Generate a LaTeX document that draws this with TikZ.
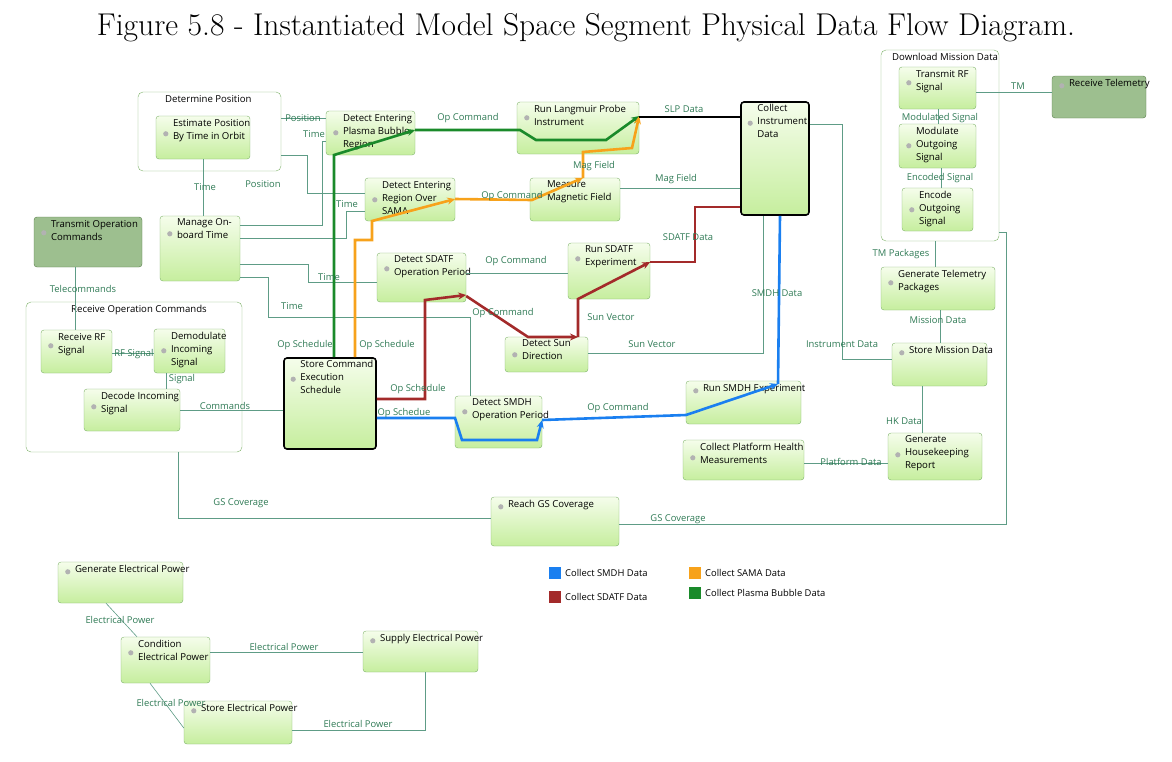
\documentclass[tikz,border=0pt]{standalone}
\usepackage{fontspec}
\newfontfamily\dsans{Open Sans}
\usetikzlibrary{fit,arrows.meta}
\definecolor{fnline}{HTML}{7FB36A}
\definecolor{fntop}{HTML}{F5FDEB}
\definecolor{fnbot}{HTML}{C6EE9E}
\definecolor{darkfn}{HTML}{9DBF8F}
\definecolor{flowc}{HTML}{5E9C86}
\definecolor{labc}{HTML}{2F7A55}
\definecolor{pbgreen}{HTML}{1A8A2A}
\definecolor{samaor}{HTML}{F7A21B}
\definecolor{sdatfred}{HTML}{A32A2A}
\definecolor{smdhblue}{HTML}{1A7FF0}
\tikzset{fn/.style={draw=fnline,rounded corners=3pt,top color=fntop,bottom color=fnbot,inner sep=0pt},
  dark fn/.style={draw=fnline!70!black,rounded corners=3pt,fill=darkfn,inner sep=0pt},
  key fn/.style={fn,draw=black,line width=1.6pt},
  group/.style={draw=fnline,rounded corners=5pt,fill=white,inner sep=0pt},
  fn text/.style={font=\dsans\fontsize{9.6}{13}\selectfont,align=left,anchor=north west,inner sep=1pt},
  flow/.style={draw=flowc,line width=0.6pt},
  flow label/.style={font=\dsans\fontsize{9.4}{11}\selectfont,text=labc,inner sep=1pt},
  thread/.style={line width=2.6pt,-{Stealth[length=8pt,width=7pt]}},
}
\newcommand{\fnbox}[6][fn]{%
  \coordinate (#2-a) at (#3); \coordinate (#2-b) at (#4);
  \node[#1,fit=(#2-a)(#2-b)] (#2) {};
  \node[fn text] at ([shift={(16,2)}]#2.north west) {#5};
  \fill[gray!60] ([shift={(10,#6)}]#2.north west) circle (2.6pt);}
\begin{document}
\begin{tikzpicture}[x=1pt,y=-1pt]
\useasboundingbox (0,0) rectangle (1172,761);
\node[font=\fontsize{31.5}{36}\selectfont] (title) at (586,28) {Figure 5.8 - Instantiated Model Space Segment Physical Data Flow Diagram.};
% groups
\node[group,fit={(138,92)(281,171)}] (detpos) {};
\node[fn text] at (164,94) {Determine Position};
\node[group,fit={(26,302)(242,452)}] (recops) {};
\node[fn text] at (70,304) {Receive Operation Commands};
\node[group,fit={(881,50)(999,241)}] (dlmd) {};
\node[fn text] at (891,52) {Download Mission Data};
% functions
\fnbox{estpos}{156,116}{250,159}{Estimate Position\\By Time in Orbit}{18}
\fnbox{mot}{160,216}{240,281}{Manage On-\\board Time}{18}
\fnbox[dark fn]{txop}{34,217}{142,267}{Transmit Operation\\Commands}{16}
\fnbox{rxrf}{41,330}{112,373}{Receive RF\\Signal}{16}
\fnbox{demod}{154,329}{225,373}{Demodulate\\Incoming\\Signal}{22}
\fnbox{decode}{84,389}{180,431}{Decode Incoming\\Signal}{18}
\fnbox{plasma}{326,111}{415,155}{Detect Entering\\Plasma Bubble\\Region}{22}
\fnbox{sama}{365,178}{455,221}{Detect Entering\\Region Over\\SAMA}{22}
\fnbox{langmuir}{517,102}{639,154}{Run Langmuir Probe\\Instrument}{16}
\fnbox{magf}{530,178}{620,221}{Measure\\Magnetic Field}{18}
\fnbox[key fn]{collect}{741,102}{809,215}{Collect\\Instrument\\Data}{22}
\fnbox{sdatfp}{377,253}{466,302}{Detect SDATF\\Operation Period}{16}
\fnbox{runsdatf}{568,243}{650,299}{Run SDATF\\Experiment}{16}
\fnbox{sun}{505,337}{588,372}{Detect Sun\\Direction}{18}
\fnbox[key fn]{store}{284,358}{376,449}{Store Command\\Execution\\Schedule}{22}
\fnbox{smdhp}{455,396}{542,448}{Detect SMDH\\Operation Period}{16}
\fnbox{runsmdh}{686,381}{801,424}{Run SMDH Experiment}{10}
\fnbox{cph}{683,440}{804,480}{Collect Platform Health\\Measurements}{18}
\fnbox{txrf}{899,67}{976,109}{Transmit RF\\Signal}{16}
\fnbox{modout}{899,124}{976,168}{Modulate\\Outgoing\\Signal}{22}
\fnbox{encout}{902,188}{973,231}{Encode\\Outgoing\\Signal}{22}
\fnbox[dark fn]{rxtel}{1052,76}{1146,118}{Receive Telemetry}{10}
\fnbox{gtp}{881,267}{995,310}{Generate Telemetry\\Packages}{16}
\fnbox{smd}{892,343}{987,386}{Store Mission Data}{10}
\fnbox{ghr}{888,433}{982,480}{Generate\\Housekeeping\\Report}{22}
\fnbox{gscov}{491,497}{619,546}{Reach GS Coverage}{10}
\fnbox{genep}{58,562}{183,603}{Generate Electrical Power}{10}
\fnbox{condep}{121,637}{210,683}{Condition\\Electrical Power}{16}
\fnbox{supep}{363,631}{478,672}{Supply Electrical Power}{10}
\fnbox{storep}{184,701}{292,744}{Store Electrical Power}{10}
% thin flows
\draw[flow] (detpos.east|-0,118) -- (plasma.west|-0,118);
\draw[flow] (detpos.east|-0,155) -| (307,193) -- (sama.west|-0,193);
\draw[flow] (estpos.south) -- (mot.north-|estpos.south);
\draw[flow] (mot.east|-0,225) -| (322,141) -- (plasma.west|-0,141);
\draw[flow] (mot.east|-0,238) -| (346,211) -- (sama.west|-0,211);
\draw[flow] (mot.east|-0,264) -| (308,282) -- (sdatfp.west|-0,282);
\draw[flow] (mot.east|-0,277) -| (268,317) -| (smdhp.north-|470,0);
\draw[flow] (txop.south-|75,0) -- (rxrf.north-|75,0);
\draw[flow] (rxrf.east|-0,353) -- (demod.west|-0,353);
\draw[flow] (demod.south-|166,0) -- (decode.north-|166,0);
\draw[flow] (decode.east|-0,410) -- (store.west|-0,410);
\draw[flow] (plasma.east|-0,130) -- (langmuir.west|-0,130);
\draw[flow] (sdatfp.east|-0,273) -- (runsdatf.west|-0,273);
\draw[flow] (magf.east|-0,188) -- (collect.west|-0,188);
\draw[flow] (sun.east|-0,353) -| (collect.south-|763,0);
\draw[flow] (collect.east|-0,124) -| (842,359) -- (smd.west|-0,359);
\draw[flow] (txrf.east|-0,92) -- (rxtel.west|-0,92);
\draw[flow] (txrf.south-|938,0) -- (modout.north-|938,0);
\draw[flow] (modout.south-|941,0) -- (encout.north-|941,0);
\draw[flow] (dlmd.south-|935,0) -- (gtp.north-|935,0);
\draw[flow] (gtp.south-|940,0) -- (smd.north-|940,0);
\draw[flow] (smd.south-|922,0) -- (ghr.north-|922,0);
\draw[flow] (cph.east|-0,463) -- (ghr.west|-0,463);
\draw[flow] (recops.south-|178,0) |- (gscov.west|-0,518);
\draw[flow] (dlmd.east|-0,232) -| (1006,524) -- (gscov.east|-0,524);
\draw[flow] (genep.south-|106,0) -- (condep.north-|137,0);
\draw[flow] (condep.east|-0,652) -- (supep.west|-0,652);
\draw[flow] (condep.south-|150,0) -- (storep.west|-0,728);
\draw[flow] (storep.east|-0,730) -| (supep.south-|425,0);
% threads
\draw[thread,pbgreen] (store.north-|334,0) -- (334,155) -- (plasma.east|-0,130);
\draw[thread,pbgreen] (plasma.east|-0,130) -- (520,130) -- (536,140) -- (606,140) -- (langmuir.east|-0,116);
\draw[thread,samaor] (store.north-|355,0) -- (355,240) -- (372,240) -- (372,221) -- (sama.east|-0,199);
\draw[thread,samaor] (sama.east|-0,199) -- (532,200) -- (magf.north-|583,0);
\draw[thread,samaor] (583,178) -- (583,152) -- (632,148) -- (langmuir.east|-0,116);
\draw[line width=2.6pt] (langmuir.east|-0,117) -- (collect.west|-0,117);
\draw[thread,sdatfred] (store.east|-0,399) -| (425,300) -- (sdatfp.east|-0,295);
\draw[thread,sdatfred] (sdatfp.east|-0,296) -- (528,337) -- (578,337);
\draw[thread,sdatfred] (578,337) -- (578,299) -- (runsdatf.east|-0,262);
\draw[line width=2.6pt,sdatfred] (runsdatf.east|-0,262) -| (695,207) -- (collect.west|-0,207);
\draw[thread,smdhblue] (store.east|-0,418) -- (455,418) -- (462,440) -- (537,440) -- (smdhp.east|-0,420);
\draw[thread,smdhblue] (smdhp.east|-0,420) -- (686,415) -- (778,384);
\draw[line width=2.6pt,smdhblue] (778,384) -- (collect.south-|780,0);
% flow labels
\foreach \p/\t in {{303,118}/Position, {263,184}/Position, {205,187}/Time, {314,134}/Time, {347,204}/Time,
  {329,277}/Time, {292,306}/Time, {83,289}/Telecommands, {134,354}/RF Signal, {182,379}/Signal,
  {225,406}/Commands, {468,118}/Op Command, {512,196}/Op Command, {594,166}/Mag Field,
  {676,179}/Mag Field, {684,109}/SLP Data, {516,261}/Op Command, {305,345}/Op Schedule,
  {387,345}/Op Schedule, {418,389}/Op Schedule, {404,413}/Op Schedue, {503,313}/Op Command,
  {611,317}/Sun Vector, {688,237}/SDATF Data, {652,344}/Sun Vector, {618,408}/Op Command,
  {777,293}/SMDH Data, {842,344}/Instrument Data, {1018,86}/TM, {940,118}/Modulated Signal,
  {940,178}/Encoded Signal, {901,254}/TM Packages, {938,320}/Mission Data, {904,421}/HK Data,
  {851,462}/Platform Data, {241,503}/GS Coverage, {678,519}/GS Coverage, {120,620}/Electrical Power,
  {284,647}/Electrical Power, {171,703}/Electrical Power, {358,724}/Electrical Power}
  \node[flow label] at (\p) {\t};
% legend
\foreach \c/\p/\t in {smdhblue/{555,573}/Collect SMDH Data, sdatfred/{555,597}/Collect SDATF Data,
  samaor/{695,573}/Collect SAMA Data, pbgreen/{695,593}/Collect Plasma Bubble Data}{
  \fill[\c] ([shift={(-6,-6)}]\p) rectangle ([shift={(6,6)}]\p);
  \node[flow label,text=black,anchor=west] at ([xshift=9]\p) {\t};}
\end{tikzpicture}
\end{document}
